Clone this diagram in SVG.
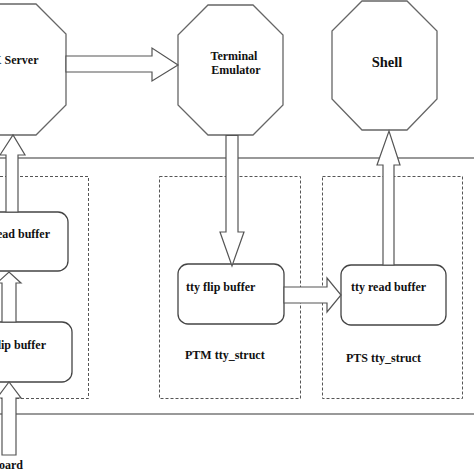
<svg xmlns="http://www.w3.org/2000/svg" width="474" height="474" viewBox="0 0 474 474">
<style>
.oct{fill:#fff;stroke:#666;stroke-width:1.3}
.box{fill:#fff;stroke:#444;stroke-width:1.3}
.dash{fill:none;stroke:#555;stroke-width:1;stroke-dasharray:3,2}
.arr{fill:#fff;stroke:#555;stroke-width:1.2;stroke-linejoin:miter}
.t{font-family:"Liberation Serif",serif;font-weight:bold;font-size:12px;fill:#111}
</style>
<rect width="474" height="474" fill="#fff"/>
<rect x="-10" y="158" width="494" height="256" fill="none" stroke="#555" stroke-width="1.2"/>
<g id="ptm-struct"><rect class="dash" x="159.5" y="176.5" width="141" height="222"/><text class="t" x="185" y="359">PTM tty_struct</text></g>
<g id="pts-struct"><rect class="dash" x="322.5" y="176.5" width="140" height="222"/><text class="t" x="346" y="362">PTS tty_struct</text></g>
<g id="left-struct"><rect class="dash" x="-10" y="176.5" width="98.5" height="222"/></g>
<g id="xserver"><polygon class="oct" points="-9,4 36,4 66,34 66,105 36,135 -9,135 -39,105 -39,34"/><text class="t" x="38.5" y="64" text-anchor="end">X Server</text></g>
<g id="terminal"><polygon class="oct" points="208,5 253,5 283,35 283,105 253,135 208,135 178,105 178,35"/><text class="t" x="234" y="60" text-anchor="middle">Terminal</text><text class="t" x="236" y="74" text-anchor="middle">Emulator</text></g>
<g id="shell"><polygon class="oct" points="362,1 407,1 437,31 437,99 407,130 362,130 332,99 332,31"/><text class="t" x="387" y="67" text-anchor="middle" style="font-size:14.5px">Shell</text></g>
<g id="ptm-flip"><rect class="box" x="178" y="264" width="106" height="60" rx="10"/><text class="t" x="186" y="291">tty flip buffer</text></g>
<g id="pts-read"><rect class="box" x="341" y="265" width="105" height="60" rx="10"/><text class="t" x="351" y="291">tty read buffer</text></g>
<g id="left-read"><rect class="box" x="-37" y="212" width="105" height="59" rx="10"/><text class="t" x="50" y="238" text-anchor="end">tty read buffer</text></g>
<g id="left-flip"><rect class="box" x="-33" y="322" width="105" height="60" rx="10"/><text class="t" x="46" y="349" text-anchor="end">tty flip buffer</text></g>
<g id="keyboard"><text class="t" x="23" y="469" text-anchor="end">Keyboard</text></g>
<g id="connectors">
<polygon class="arr" points="66,56 152,56 152,48 178,65 152,81 152,72 66,72"/>
<polygon class="arr" points="226,135.5 226,232 220,232 232,266 244,232 238,232 238,135.5"/>
<polygon class="arr" points="284,287 327,287 327,278 341,295 327,312 327,303 284,303"/>
<polygon class="arr" points="383,265 383,165 377,165 389,131 400,165 394,165 394,265"/>
<polygon class="arr" points="6,212 6,155 0,155 13,135 25,155 18,155 18,212"/>
<polygon class="arr" points="2,322 2,283 -3,283 9,272 21,283 16,283 16,322"/>
<polygon class="arr" points="2,455 2,398 -3,398 9,382 21,398 16,398 16,455"/>
</g>
</svg>
